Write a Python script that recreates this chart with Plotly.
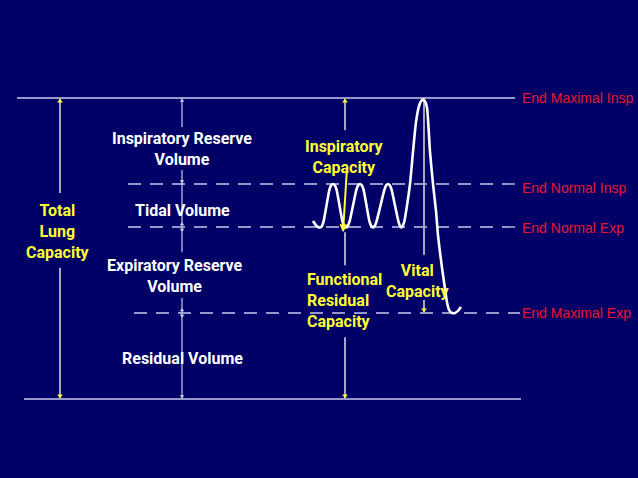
import plotly.graph_objects as go

# lung volume levels (litres), top to bottom
level_names = ["End Maximal Insp", "End Normal Insp", "End Normal Exp", "End Maximal Exp"]
level_vals = [5.6, 4.0, 3.2, 1.6]
zero_level = 0.0

# spirogram trace (time units, litres)
wave_t = [313, 316, 318, 320, 322, 323.5, 326.5, 329.5, 331.3, 333, 334.7, 336.5, 339.5, 342.5, 344.3, 346,
          347.7, 349.5, 353, 356.5, 358.3, 360, 361.7, 363.5, 366.5, 369.5, 371.3, 373,
          374.7, 376.5, 380.5, 384.5, 386.3, 388, 389.7, 391.5, 395, 398.5, 400, 401.5,
          404, 407, 410, 413, 416, 419, 421, 423, 425, 427, 430, 433, 436, 438,
          442, 445, 447, 449, 452, 455, 458, 461]
wave_v = [3.31, 3.23, 3.2, 3.19, 3.22, 3.3, 3.6, 3.9, 3.98, 4.0, 3.98, 3.9, 3.6, 3.3, 3.22, 3.19,
          3.22, 3.3, 3.6, 3.9, 3.98, 4.0, 3.98, 3.9, 3.6, 3.3, 3.22, 3.19,
          3.22, 3.3, 3.6, 3.9, 3.98, 4.0, 3.98, 3.9, 3.6, 3.3, 3.22, 3.19,
          3.28, 3.6, 4.0, 4.6, 5.15, 5.45, 5.54, 5.57, 5.54, 5.42, 4.6, 4.0, 3.5, 3.05,
          2.44, 2.05, 1.8, 1.66, 1.6, 1.6, 1.64, 1.71]

BG = "#000066"
LINE = "#c8c8ec"
GRAY = "#a8a8b8"
YEL = "#ffff33"
RED = "#e8162e"
FONT = "Roboto, Liberation Sans, Arial"

fig = go.Figure()

# solid top / bottom lines
fig.add_trace(go.Scatter(x=[17, 515], y=[level_vals[0]] * 2, mode="lines",
                         line=dict(color=LINE, width=1.3), hoverinfo="skip"))
fig.add_trace(go.Scatter(x=[24, 521], y=[zero_level] * 2, mode="lines",
                         line=dict(color=LINE, width=1.3), hoverinfo="skip"))
# dashed level lines
for v, x0, x1 in [(level_vals[1], 128, 515), (level_vals[2], 128, 515), (level_vals[3], 134, 520)]:
    fig.add_trace(go.Scatter(x=[x0, x1], y=[v, v], mode="lines",
                             line=dict(color=LINE, width=1.3, dash="13px,9px"), hoverinfo="skip"))

# vertical measuring lines (segments broken where text sits)
def vline(x, segs, color, width=1.5):
    xs, ys = [], []
    for a, b in segs:
        xs += [x, x, None]
        ys += [a, b, None]
    fig.add_trace(go.Scatter(x=xs, y=ys, mode="lines",
                             line=dict(color=color, width=width), hoverinfo="skip"))

def heads(x, ups, downs, color, size=5):
    if ups:
        fig.add_trace(go.Scatter(x=[x] * len(ups), y=ups, mode="markers",
                                 marker=dict(symbol="triangle-up", size=size, color=color),
                                 hoverinfo="skip"))
    if downs:
        fig.add_trace(go.Scatter(x=[x] * len(downs), y=downs, mode="markers",
                                 marker=dict(symbol="triangle-down", size=size, color=color),
                                 hoverinfo="skip"))

tlc, insp, exp_, mexp = level_vals
vline(60, [(tlc, 3.83), (2.44, zero_level)], GRAY, 2)
heads(60, [tlc - 0.06], [zero_level + 0.06], YEL)

vline(182, [(tlc, 5.06), (4.26, insp), (insp, exp_), (exp_, 2.73), (1.88, mexp), (mexp, zero_level)], LINE, 1.2)
heads(182, [tlc - 0.05, exp_ + 0.05, mexp + 0.05], [insp + 0.05, exp_ - 0.05, mexp - 0.05, zero_level + 0.05], LINE, 4)

vline(345, [(tlc, 5.0), (exp_ - 0.1, 2.49), (1.15, zero_level)], GRAY, 2)
heads(345, [tlc - 0.06], [zero_level + 0.06], YEL)

vline(424, [(tlc, 2.68), (1.84, mexp)], GRAY, 2)
heads(424, [], [mexp + 0.06], YEL)

# spirogram
fig.add_trace(go.Scatter(x=wave_t, y=wave_v, mode="lines",
                         line=dict(color="white", width=2.6, shape="spline", smoothing=0.6),
                         hoverinfo="skip"))

# text labels
def label(x, y, text, color, xanchor="center", align="center", size=16):
    fig.add_annotation(x=x, y=y, text=text, showarrow=False, xanchor=xanchor, align=align,
                       yanchor="middle", font=dict(family=FONT, size=size, color=color))

label(58, 3.11, "<b>Total<br>Lung<br>Capacity</b>", YEL)
label(182, 4.66, "<b>Inspiratory Reserve<br>Volume</b>", "white")
label(182, 3.50, "<b>Tidal Volume</b>", "white")
label(175, 2.28, "<b>Expiratory Reserve<br>Volume</b>", "white")
label(182, 0.76, "<b>Residual Volume</b>", "white")
label(344, 4.50, "<b>Inspiratory<br>Capacity</b>", YEL)
label(305, 1.84, "<b>Functional<br>Residual<br>Capacity</b>", YEL, xanchor="left", align="left")
label(418, 2.20, "<b>Vital<br>Capacity</b>", YEL)

# yellow inspiratory capacity arrow, drawn over the text
fig.add_annotation(x=343, y=exp_ - 0.1, ax=347, ay=4.30, axref="x", ayref="y",
                   text="", showarrow=True, arrowhead=2, arrowsize=0.8, arrowwidth=2,
                   arrowcolor=YEL)

# level names on the right
for name, v, dy in zip(level_names, level_vals, [0, -4, -1, 0]):
    fig.add_annotation(x=520, y=v, text=name, showarrow=False, xanchor="left", yanchor="middle",
                       yshift=dy, font=dict(family="Liberation Sans, Arial", size=14, color=RED))

fig.update_layout(
    width=638, height=478,
    margin=dict(l=0, r=0, t=0, b=0),
    paper_bgcolor=BG, plot_bgcolor=BG,
    showlegend=False,
    xaxis=dict(range=[0, 638], visible=False, fixedrange=True),
    yaxis=dict(range=[-1.470, 7.423], visible=False, fixedrange=True),
)

fig.write_html("out.html", config={"displayModeBar": False},
               post_script="document.body.style.margin='0';document.body.style.overflow='hidden';")
